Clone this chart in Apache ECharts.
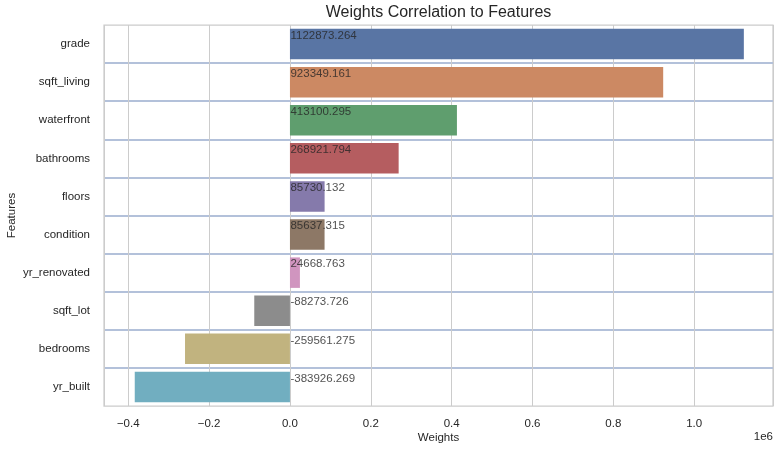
<!DOCTYPE html>
<html>
<head>
<meta charset="utf-8">
<script src="https://cdn.jsdelivr.net/npm/echarts@6/dist/echarts.min.js"></script>
<style>
  html, body { margin: 0; padding: 0; background: #fff; }
  #chart { width: 781px; height: 450px; }
</style>
</head>
<body>
<div id="chart"></div>
<script>
// features, top to bottom
var features = ["grade", "sqft_living", "waterfront", "bathrooms", "floors",
  "condition", "yr_renovated", "sqft_lot", "bedrooms", "yr_built"];
var weights = [1122873.264, 923349.161, 413100.295, 268921.794, 85730.132,
  85637.315, 24668.763, -88273.726, -259561.275, -383926.269];
// seaborn deep, desaturated (barplot default)
var barColors = ["#5975a4", "#cc8963", "#5f9e6e", "#b55d60", "#857aab",
  "#8d7866", "#d095bf", "#8c8c8c", "#c1b37f", "#71aec0"];

var font = "Liberation Sans, Arial, sans-serif";
var ink = "#262626";

var myChart = echarts.init(document.getElementById("chart"), null, { renderer: "canvas" });

myChart.setOption({
  animation: false,
  grid: {
    left: 104, right: 8, top: 25, bottom: 44,
    outerBoundsMode: "none",
    containLabel: false,
    show: true,
    borderColor: "#cccccc",
    borderWidth: 1.25,
    backgroundColor: "#ffffff"
  },
  graphic: [
    {
      type: "text", x: 438.5, y: 13,
      style: { text: "Weights Correlation to Features", fontSize: 16, fontFamily: font,
        fill: ink, align: "center", verticalAlign: "middle" }
    },
    {
      type: "text", x: 773, y: 437,
      style: { text: "1e6", fontSize: 11.5, fontFamily: font, fill: ink,
        align: "right", verticalAlign: "middle" }
    }
  ],
  xAxis: {
    type: "value",
    min: -460000,
    max: 1195000,
    minInterval: 200000,
    maxInterval: 200000,
    name: "Weights",
    nameLocation: "middle",
    nameGap: 25.5,
    nameMoveOverlap: false,
    nameTextStyle: { color: ink, fontSize: 11.5, fontFamily: font },
    axisLine: { show: false },
    axisTick: { show: false },
    axisLabel: {
      color: ink, fontSize: 11.5, fontFamily: font, margin: 12,
      showMinLabel: false, showMaxLabel: false,
      formatter: function (v) { return (v / 1e6).toFixed(1).replace("-", "\u2212"); }
    },
    splitLine: { show: true, lineStyle: { color: "#cccccc", width: 1 } }
  },
  yAxis: {
    type: "category",
    inverse: true,
    data: features,
    name: "Features",
    nameLocation: "middle",
    nameRotate: 90,
    nameGap: 86,
    nameMoveOverlap: false,
    nameTextStyle: { color: ink, fontSize: 11.5, fontFamily: font },
    axisLine: { show: false },
    axisTick: { show: false },
    axisLabel: { color: ink, fontSize: 11.5, fontFamily: font, margin: 14 },
    splitLine: {
      show: true,
      showMinLine: false,
      showMaxLine: false,
      lineStyle: { color: "#b3c1da", width: 2 }
    }
  },
  series: [
    {
      name: "weights",
      type: "bar",
      barWidth: "80%",
      data: weights.map(function (w, i) {
        return { value: w, itemStyle: { color: barColors[i] } };
      })
    },
    {
      // value text anchored at x = 0 like ax.text(0, i, ...)
      name: "labels",
      type: "scatter",
      symbolSize: 1,
      itemStyle: { color: "rgba(0,0,0,0)" },
      data: weights.map(function (w, i) { return [0, i]; }),
      label: {
        show: true,
        position: "right",
        distance: 0,
        offset: [0, -8.5],
        color: ink,
        fontSize: 11.5,
        fontFamily: font,
        formatter: function (p) { return weights[p.dataIndex].toFixed(3); }
      },
      z: 5
    }
  ]
});
</script>
</body>
</html>
